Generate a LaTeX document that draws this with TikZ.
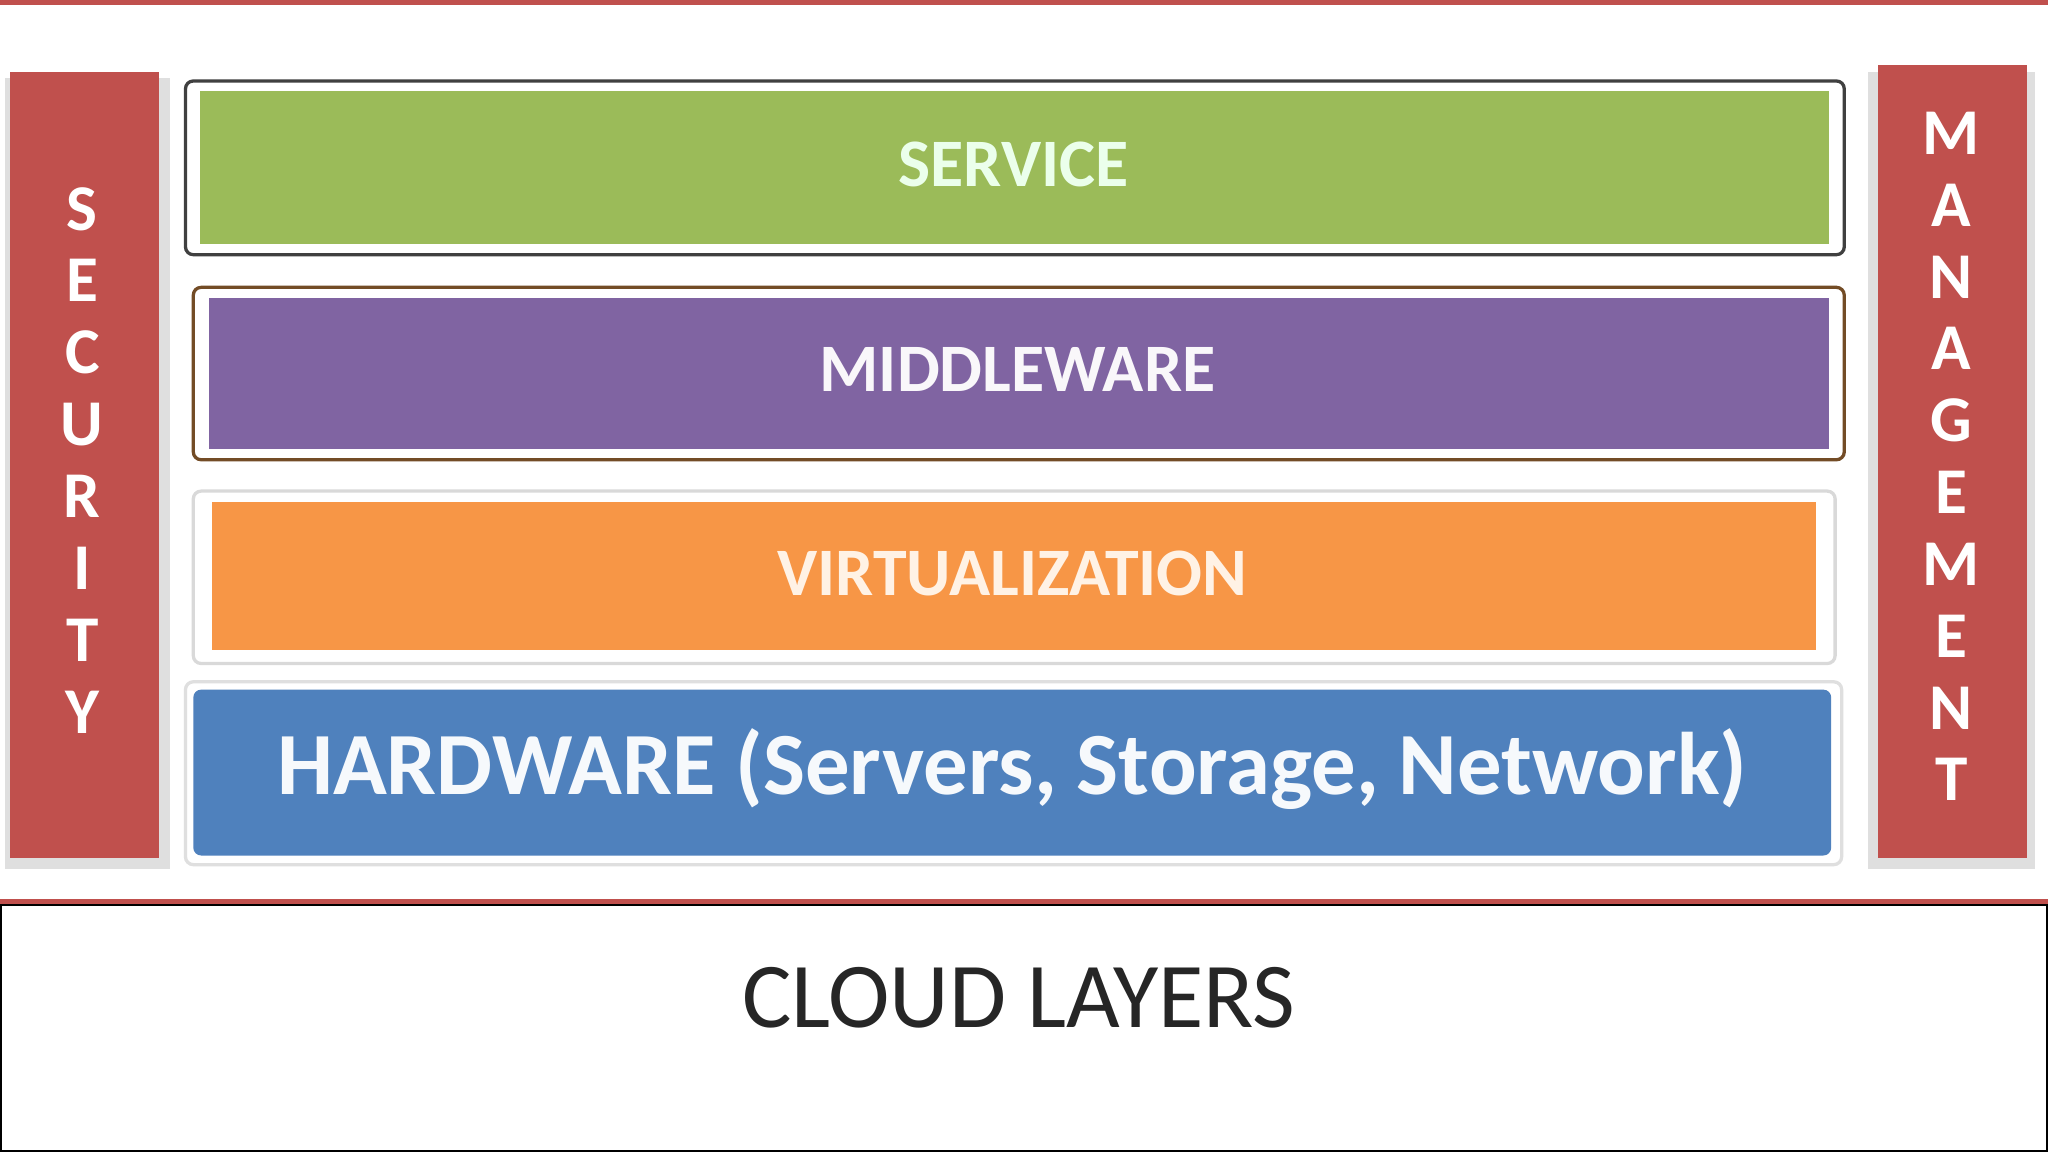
\documentclass[tikz,border=0pt]{standalone}
\usepackage{fontspec}
\setmainfont{Carlito}
\definecolor{redbar}{HTML}{C0504D}
\definecolor{svc}{HTML}{9BBB59}
\definecolor{mid}{HTML}{8064A2}
\definecolor{virt}{HTML}{F79646}
\definecolor{hw}{HTML}{4F81BD}
\tikzset{
 layer/.style={draw=none},
 outer/.style={draw=#1,line width=2.5pt,rounded corners=6pt,fill=white},
 lbl/.style={text=#1,font=\bfseries\fontsize{52}{56}\selectfont},
 vlet/.style={text=white,font=\bfseries\fontsize{50}{54}\selectfont,align=center}
}
\begin{document}
\begin{tikzpicture}[x=1pt,y=-1pt]
\useasboundingbox (0,0) rectangle (1568,882);
\fill[white] (0,0) rectangle (1568,882);
\fill[redbar] (0,0) rectangle (1568,4);
% side bars
\fill[gray!25] (4,60) rectangle (130,665);
\fill[redbar] (8,55) rectangle (122,657);
\fill[gray!25] (1430,55) rectangle (1558,665);
\fill[redbar] (1438,50) rectangle (1552,657);
\foreach \l [count=\i] in {S,E,C,U,R,I,T,Y}
  \node[vlet] (s\i) at (63,{160+(\i-1)*55}) {\l};
\foreach \l [count=\i] in {M,A,N,A,G,E,M,E,N,T}
  \node[vlet] (m\i) at (1494,{102+(\i-1)*55}) {\l};
% layers
\draw[outer=black!75] (142,62) rectangle (1412,195);
\fill[svc] (153,70) rectangle (1400,187);
\node[lbl=green!8] (svc) at (776,126) {SERVICE};
\draw[outer=brown!60!black] (148,220) rectangle (1412,352);
\fill[mid] (160,228) rectangle (1400,344);
\node[lbl=white!95!mid] (mid) at (779,283) {MIDDLEWARE};
\draw[outer=gray!30] (148,376) rectangle (1405,508);
\fill[virt] (162,384) rectangle (1390,498);
\node[lbl=orange!10] (virt) at (775,439) {VIRTUALIZATION};
\draw[outer=gray!25] (142,522) rectangle (1410,662);
\fill[hw,rounded corners=6pt] (148,528) rectangle (1402,655);
\node[text=white!95!hw,font=\bfseries\fontsize{68}{72}\selectfont] (hw) at (775,589) {HARDWARE (Servers, Storage, Network)};
% bottom
\fill[redbar] (0,688) rectangle (1568,693);
\draw[black,line width=1.5pt] (1,693) rectangle (1567,881);
\node[font=\fontsize{71}{76}\selectfont,text=black!85] (title) at (780,764) {CLOUD LAYERS};
\end{tikzpicture}
\end{document}
